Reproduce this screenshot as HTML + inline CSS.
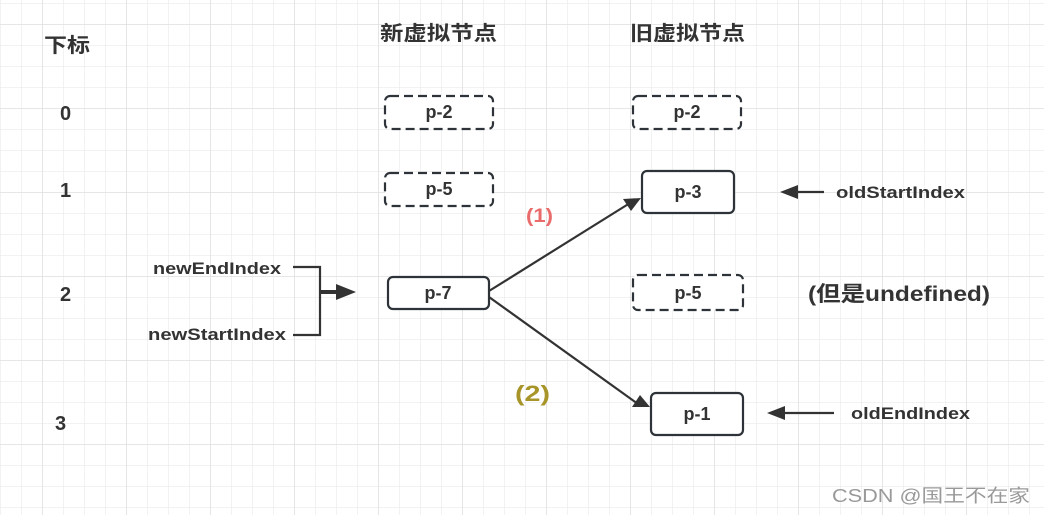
<!DOCTYPE html>
<html><head><meta charset="utf-8"><style>
html,body{margin:0;padding:0;background:#fff}
svg{display:block}
text{font-family:"Liberation Sans","Noto Sans CJK SC",sans-serif;font-weight:bold;fill:#333}
</style></head><body>
<svg width="1044" height="515" viewBox="0 0 1044 515" xmlns="http://www.w3.org/2000/svg">
<defs>
<pattern id="g" x="0" y="3" width="21" height="21" patternUnits="userSpaceOnUse">
<path d="M0 0H21M0 0V21" stroke="#e9e9e9" stroke-width="1.2" fill="none"/>
</pattern>
<pattern id="G" x="42" y="24" width="84" height="84" patternUnits="userSpaceOnUse">
<path d="M0 0H84M0 0V84" stroke="#e0e0e0" stroke-width="1.6" fill="none"/>
</pattern>
</defs>
<rect width="1044" height="515" fill="url(#g)"/>
<rect width="1044" height="515" fill="url(#G)"/>

<g font-size="20">
<text x="44" y="52" textLength="46" lengthAdjust="spacingAndGlyphs">下标</text>
<text x="380" y="40" textLength="117" lengthAdjust="spacingAndGlyphs">新虚拟节点</text>
<text x="630" y="40" textLength="115" lengthAdjust="spacingAndGlyphs">旧虚拟节点</text>
</g>
<g font-size="20">
<text x="60" y="120">0</text>
<text x="60" y="197">1</text>
<text x="60" y="301">2</text>
<text x="55" y="430">3</text>
</g>

<g fill="#fff" stroke="#2d3338" stroke-width="2.2">
<rect x="385" y="96" width="108" height="33" rx="5" stroke-dasharray="9,5"/>
<rect x="385" y="173" width="108" height="33" rx="5" stroke-dasharray="9,5"/>
<rect x="388" y="277" width="101" height="32" rx="5"/>
<rect x="633" y="96" width="108" height="33" rx="5" stroke-dasharray="9,5"/>
<rect x="642" y="171" width="92" height="42" rx="5"/>
<rect x="633" y="275" width="110" height="35" rx="5" stroke-dasharray="9,5"/>
<rect x="651" y="393" width="92" height="42" rx="5"/>
</g>
<g font-size="18" text-anchor="middle">
<text x="439" y="118">p-2</text>
<text x="439" y="195">p-5</text>
<text x="438" y="299">p-7</text>
<text x="687" y="118">p-2</text>
<text x="688" y="198">p-3</text>
<text x="688" y="299">p-5</text>
<text x="697" y="420">p-1</text>
</g>

<g stroke="#333" stroke-width="2.2" fill="none">
<line x1="489" y1="291" x2="630" y2="203"/>
<line x1="489" y1="297" x2="638" y2="404"/>
<path d="M293 267H320V335H293"/>
<line x1="320" y1="292" x2="340" y2="292" stroke-width="4"/>
<line x1="795" y1="192" x2="824" y2="192"/>
<line x1="782" y1="413" x2="834" y2="413"/>
</g>
<g fill="#333">
<polygon points="356,292 336,284 336,300"/>
<polygon points="780,192 798,185 798,199"/>
<polygon points="767,413 785,406 785,420"/>
<polygon points="641,198 623,199 631,211"/>
<polygon points="650,407 632,407 640,395"/>
</g>

<g font-size="17">
<text x="153" y="274" textLength="128" lengthAdjust="spacingAndGlyphs">newEndIndex</text>
<text x="148" y="340" textLength="138" lengthAdjust="spacingAndGlyphs">newStartIndex</text>
<text x="836" y="198" textLength="129" lengthAdjust="spacingAndGlyphs">oldStartIndex</text>
<text x="851" y="419" textLength="119" lengthAdjust="spacingAndGlyphs">oldEndIndex</text>
</g>
<text x="808" y="301" font-size="21" textLength="182" lengthAdjust="spacingAndGlyphs">(但是undefined)</text>
<text x="526" y="222" font-size="19" textLength="27" lengthAdjust="spacingAndGlyphs" style="fill:#ea6b6b">(1)</text>
<text x="515" y="401" font-size="22" textLength="35" lengthAdjust="spacingAndGlyphs" style="fill:#a8952a">(2)</text>
<text x="832" y="502" font-size="18" textLength="198" lengthAdjust="spacingAndGlyphs" style="fill:#999;font-weight:normal">CSDN @国王不在家</text>
</svg>
</body></html>
